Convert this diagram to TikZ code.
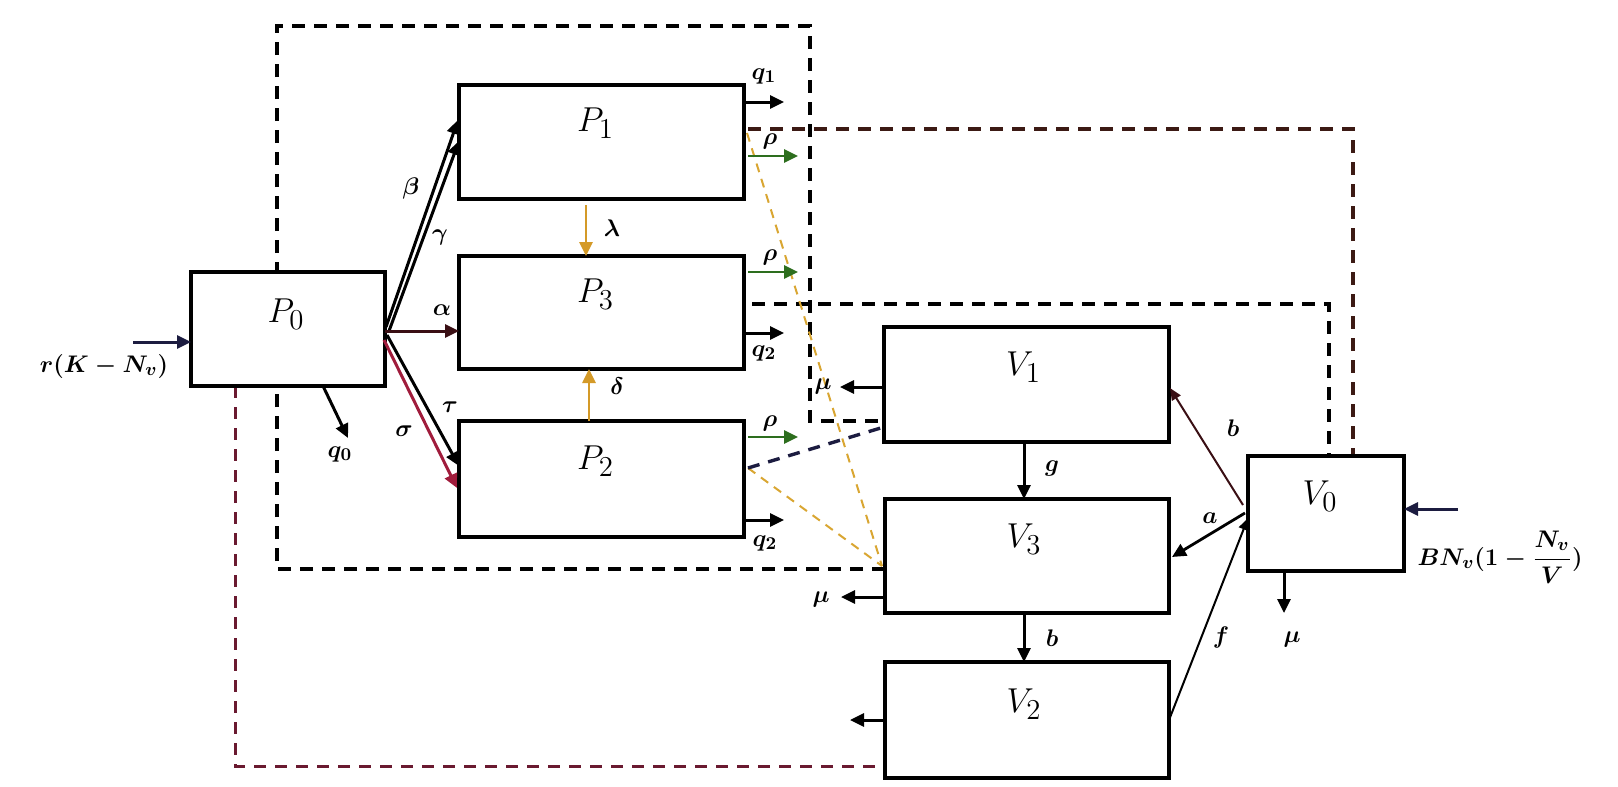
\documentclass[tikz,border=0pt]{standalone}
\usetikzlibrary{arrows.meta,calc}
\definecolor{grn}{HTML}{2D6E1E}
\definecolor{gold}{HTML}{D49A28}
\definecolor{ylw}{HTML}{D9A632}
\definecolor{crim}{HTML}{A01C3C}
\definecolor{maroon}{HTML}{6A1A30}
\definecolor{dbrown}{HTML}{3C1A14}
\definecolor{navy}{HTML}{1C1C40}
\definecolor{darkred}{HTML}{3A0F14}
\tikzset{
  box/.style={draw=black, line width=1.9pt, inner sep=0pt, outer sep=0pt, fill=white},
  boxlab/.style={font=\fontsize{19}{22}\selectfont, inner sep=0pt},
  lab/.style={font=\fontsize{12.5}{14}\selectfont\boldmath, inner sep=1pt},
  arr/.style={line width=1.5pt, -{Triangle[length=7pt,width=6.5pt]}},
  thinarr/.style={line width=1pt, -{Triangle[length=6pt,width=5pt]}},
  dsh/.style={line width=1.9pt, dash pattern=on 6.5pt off 4.5pt},
  ydsh/.style={line width=1pt, color=ylw, dash pattern=on 4.5pt off 3.5pt},
}
\begin{document}
\begin{tikzpicture}[x=0.5pt,y=-0.5pt]
\useasboundingbox (0,0) rectangle (1618,787);
% box positions
\path
  node[box, minimum width=97pt, minimum height=57pt] (P0) at (288,329) {}
  node[box, minimum width=142.5pt, minimum height=57pt] (P1) at (601.5,142) {}
  node[box, minimum width=142.5pt, minimum height=56.5pt] (P3) at (601.5,312.5) {}
  node[box, minimum width=142.5pt, minimum height=58pt] (P2) at (601.5,479) {}
  node[box, minimum width=142.5pt, minimum height=57.5pt] (V1) at (1026.5,384.5) {}
  node[box, minimum width=142pt, minimum height=57pt] (V3) at (1027,556) {}
  node[box, minimum width=142pt, minimum height=58pt] (V2) at (1027,720) {}
  node[box, minimum width=78pt, minimum height=57.5pt] (V0) at (1326,513.5) {};
% dashed feedback lines
\draw[dsh] ($(V3.north west)+(0,70)$) -- (277,569) -- (277,26) -- (810,26) -- (810,421) -- ($(V1.north west)+(0,94)$);
\draw[dsh, color=dbrown] ($(P1.north east)+(4,44)$) -- (1353,129) -- ($(V0.north west)+(105,0)$);
\draw[dsh] ($(P3.north east)+(8,48)$) -- (1329,304) -- ($(V0.north west)+(81,0)$);
\draw[line width=1.5pt, color=maroon, dash pattern=on 6pt off 4.5pt] ($(P0.south west)+(44,0)$) -- (235,766) -- ($(V2.north west)+(0,104)$);
\draw[ydsh] ($(P1.north east)+(3,48)$) -- ($(V3.north west)+(-3,67)$);
\draw[ydsh] ($(P2.north east)+(4,47)$) -- ($(V3.north west)+(-3,67)$);
\draw[line width=1.7pt, color=navy, dash pattern=on 6pt off 4.5pt] ($(P2.north east)+(4,47)$) -- ($(V1.north west)+(0,100)$);
% redraw boxes on top of the dashes
\path
  node[box, minimum width=97pt, minimum height=57pt] (P0b) at (P0) {}
  node[box, minimum width=142.5pt, minimum height=57pt] (P1b) at (P1) {}
  node[box, minimum width=142.5pt, minimum height=56.5pt] (P3b) at (P3) {}
  node[box, minimum width=142.5pt, minimum height=58pt] (P2b) at (P2) {}
  node[box, minimum width=142.5pt, minimum height=57.5pt] (V1b) at (V1) {}
  node[box, minimum width=142pt, minimum height=57pt] (V3b) at (V3) {}
  node[box, minimum width=142pt, minimum height=58pt] (V2b) at (V2) {}
  node[box, minimum width=78pt, minimum height=57.5pt] (V0b) at (V0) {};
% box labels
\node[boxlab] (P0l) at ($(P0.north)+(-2,42)$) {$P_0$};
\node[boxlab] (P1l) at ($(P1.north)+(-6,38)$) {$P_1$};
\node[boxlab] (P3l) at ($(P3.north)+(-6,38)$) {$P_3$};
\node[boxlab] (P2l) at ($(P2.north)+(-6,40)$) {$P_2$};
\node[boxlab] (V1l) at ($(V1.north)+(-3,40)$) {$V_1$};
\node[boxlab] (V3l) at ($(V3.north)+(-3,40)$) {$V_3$};
\node[boxlab] (V2l) at ($(V2.north)+(-3,42)$) {$V_2$};
\node[boxlab] (V0l) at ($(V0.north)+(-6,40)$) {$V_0$};
% input to P0
\coordinate (in0) at (133,342);
\draw[arr, color=navy] (in0) -- (in0 -| P0.west);
\node[lab] (rK) at (104,366) {$r(K-N_{v})$};
% q0
\coordinate (q0e) at (348,438);
\draw[arr] ($(P0.south west)+(132,0)$) -- (q0e);
\node[lab] (q0l) at (340,454) {$q_{0}$};
% P0 -> P1 (beta, gamma)
\draw[arr] ($(P0.north east)+(1,55)$) -- ($(P1.north west)+(-1,35)$);
\draw[arr] ($(P0.north east)+(4,59)$) -- ($(P1.north west)+(0,56)$);
\node[lab] (betal) at (411,188) {$\beta$};
\node[lab] (gammal) at (440,237) {$\gamma$};
% P0 -> P3 (alpha)
\draw[arr, color=darkred] ($(P0.north east)+(0,59)$) -- ($(P3.north west)+(0,75)$);
\node[lab] (alphal) at (442,310) {$\alpha$};
% P0 -> P2 (tau, sigma)
\draw[arr] ($(P0.north east)+(2,63)$) -- ($(P2.north west)+(0,45)$);
\draw[arr, color=crim] ($(P0.north east)+(-1,68)$) -- ($(P2.north west)+(-2,67)$);
\node[lab] (taul) at (450,407) {$\tau$};
\node[lab] (sigmal) at (404,431) {$\sigma$};
% lambda, delta
\draw[arr, color=gold, line width=1.3pt] ($(P1.south west)+(127,6)$) -- ($(P3.north west)+(127,0)$);
\node[lab] (lambdal) at (612,228) {$\lambda$};
\draw[arr, color=gold, line width=1.3pt] ($(P2.north west)+(130,0)$) -- ($(P3.south west)+(130,0)$);
\node[lab] (deltal) at (617,386) {$\delta$};
% q outflows
\draw[arr] ($(P1.north east)+(0,17)$) -- ++(40,0) coordinate (q1e);
\node[lab] (q1l) at (764,76) {$q_{1}$};
\draw[arr] ($(P3.north east)+(0,77)$) -- ++(40,0) coordinate (q3e);
\node[lab] (q3l) at (764,353) {$q_{2}$};
\draw[arr] ($(P2.north east)+(0,99)$) -- ++(40,0) coordinate (q2e);
\node[lab] (q2l) at (765,543) {$q_{2}$};
% rho outflows
\draw[arr, color=grn, line width=1.3pt] ($(P1.north east)+(4,71)$) -- ++(50,0) coordinate (r1e);
\node[lab] (rho1) at (770,141) {$\rho$};
\draw[arr, color=grn, line width=1.3pt] ($(P3.north east)+(4,16)$) -- ++(50,0) coordinate (r3e);
\node[lab] (rho3) at (770,257) {$\rho$};
\draw[arr, color=grn, line width=1.3pt] ($(P2.north east)+(4,16)$) -- ++(50,0) coordinate (r2e);
\node[lab] (rho2) at (770,423) {$\rho$};
% V1 mu
\draw[arr] ($(V1.north west)+(0,60)$) -- ++(-44,0) coordinate (m1e);
\node[lab] (mu1) at (823,386) {$\mu$};
% g, b
\draw[arr] ($(V1.south west)+(140,0)$) -- ($(V3.north west)+(139,0)$);
\node[lab] (gl) at (1052,468) {$g$};
\draw[arr] ($(V3.south west)+(139,0)$) -- ($(V2.north west)+(139,0)$);
\node[lab] (bl2) at (1052,638) {$b$};
% V3 mu
\draw[arr] ($(V3.north west)+(0,98)$) -- ++(-44,0) coordinate (m3e);
\node[lab] (mu3) at (821,599) {$\mu$};
% V2 out
\draw[arr] ($(V2.north west)+(0,58)$) -- ++(-35,0) coordinate (m2e);
% V0 mu and input
\draw[arr] ($(V0.south west)+(36,0)$) -- ++(0,42) coordinate (m0e);
\node[lab] (mu0) at (1292,639) {$\mu$};
\coordinate (in0v) at (1458,509);
\draw[arr, color=navy] (in0v) -- (in0v -| V0.east);
\node[lab] (BNl) at (1500,557) {$BN_{v}(1-\displaystyle\frac{N_{v}}{V})$};
% V0 -> V1 (b), V0 -> V3 (a), V2 -> V0 (f)
\draw[thinarr, color=darkred] ($(V0.north west)+(-5,49)$) -- ($(V1.north east)+(1,61)$);
\node[lab] (bl1) at (1233,428) {$b$};
\draw[arr, line width=1.4pt] ($(V0.north west)+(-3,57)$) -- ($(V3.north east)+(3,58)$);
\node[lab] (al) at (1210,518) {$a$};
\draw[thinarr] ($(V2.north east)+(0,58)$) -- ($(V0.north west)+(0,62)$);
\node[lab] (fl) at (1221,637) {$f$};
\end{tikzpicture}
\end{document}
